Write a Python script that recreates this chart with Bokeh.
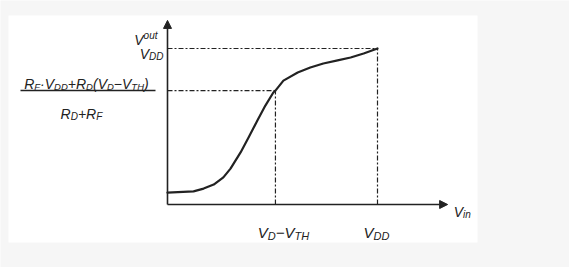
from bokeh.plotting import figure
from bokeh.models import ColumnDataSource, Range1d, Arrow, NormalHead
from bokeh.core.properties import value, field
from bokeh.embed import file_html
from bokeh.resources import INLINE

# ---- data (sketch units: volts) ----
VDD = 5.0
VD_VTH = 2.57
V_MID = 3.65
vin = [0.00, 0.62, 0.86, 1.10, 1.33, 1.50, 1.74, 1.93, 2.14, 2.33, 2.52, 2.57,
       2.76, 3.10, 3.40, 3.71, 4.05, 4.36, 4.67, 5.00]
vout = [0.38, 0.42, 0.51, 0.64, 0.87, 1.15, 1.67, 2.15, 2.69, 3.17, 3.59, 3.65,
        3.97, 4.23, 4.39, 4.52, 4.62, 4.71, 4.84, 5.00]
x_axis_end = 6.67
y_axis_end = 5.9

# label pieces: (text, kind) kind: m = main, s = subscript, u = raised
x_tick_values = [VD_VTH, VDD]
x_tick_labels = [[("V", "m"), ("D", "s"), ("−", "m"), ("V", "m"), ("TH", "s")],
                 [("V", "m"), ("DD", "s")]]
y_tick_labels = [[("V", "m"), ("DD", "s")]]
vout_label = [("V", "m"), ("out", "u")]
vin_label = [("V", "m"), ("in", "s")]
numerator = [("R", "m"), ("F", "s"), ("·", "m"), ("V", "m"), ("DD", "s"), ("+", "m"),
             ("R", "m"), ("D", "s"), ("(", "m"), ("V", "m"), ("D", "s"), ("−", "m"),
             ("V", "m"), ("TH", "s"), (")", "m")]
denominator = [("R", "m"), ("D", "s"), ("+", "m"), ("R", "m"), ("F", "s")]

# ---- layout / style ----
W, H = 569, 267
SX, SY = 42.0, 31.2          # px per unit
X0, Y0 = 167, 204            # pixel position of origin
INK = "#222222"
FONT = "Liberation Sans"

p = figure(width=W, height=H, output_backend="svg", toolbar_location=None,
           x_range=Range1d(-X0 / SX, (W - X0) / SX),
           y_range=Range1d((Y0 - H) / SY, Y0 / SY),
           min_border=0, background_fill_color="#f6f6f6", border_fill_color="#f6f6f6")
p.axis.visible = False
p.grid.visible = False
p.outline_line_color = None

# paper
p.quad(left=[(8 - X0) / SX], right=[(477 - X0) / SX], bottom=[(Y0 - 242) / SY],
       top=[(Y0 - 15) / SY], fill_color="white", line_color=None)

# dashed guides
dash = "5 2 2 2"
p.segment(x0=[0, 0, VD_VTH, VDD], y0=[VDD, V_MID, 0, 0],
          x1=[VDD, VD_VTH, VD_VTH, VDD], y1=[VDD, V_MID, V_MID, VDD],
          line_color=INK, line_width=1.2, line_dash=dash)

# axes with arrows
head = dict(size=8, fill_color=INK, line_color=INK)
p.add_layout(Arrow(end=NormalHead(**head), x_start=0, y_start=0, x_end=0, y_end=y_axis_end,
                   line_color=INK, line_width=1.6))
p.add_layout(Arrow(end=NormalHead(**head), x_start=0, y_start=0, x_end=x_axis_end, y_end=0,
                   line_color=INK, line_width=1.6))

# transfer curve
p.line(vin, vout, line_color=INK, line_width=2.2, line_join="round", line_cap="round")

# fraction bar
frac_cx = -1.93
p.segment(x0=[(20 - X0) / SX], y0=[V_MID], x1=[(155 - X0) / SX], y1=[V_MID],
          line_color=INK, line_width=1.5)

# ---- text composition ----
ADV = {"V": .667, "D": .722, "T": .611, "H": .722, "R": .722, "F": .611, "+": .584,
       "−": .584, "(": .333, ")": .333, "·": .333, "o": .556, "u": .556, "t": .278,
       "i": .222, "n": .556}
rows = dict(x=[], y=[], text=[], xo=[], yo=[], fs=[])


def place(pieces, x, y, align="left", dx=0.0, dy=0.0, main=14, sub=10, sup=-3):
    sizes = [main if k == "m" else sub for _, k in pieces]
    widths = [sum(ADV.get(c, .6) for c in t) * s for (t, _), s in zip(pieces, sizes)]
    total = sum(widths)
    cur = {"left": 0.0, "center": -total / 2, "right": -total}[align] + dx
    for (t, k), s, w in zip(pieces, sizes, widths):
        rows["x"].append(x)
        rows["y"].append(y)
        rows["text"].append(t)
        rows["xo"].append(cur)
        rows["yo"].append(dy + {"m": 0, "s": 3, "u": sup}[k])
        rows["fs"].append(f"{s}px")
        cur += w


for xv, lab, ddx in zip(x_tick_values, x_tick_labels, [8, -1]):
    place(lab, xv, 0, "center", dx=ddx, dy=28, main=15, sub=11)
place(y_tick_labels[0], 0, VDD, "right", dx=-4, dy=5)
place(vout_label, 0, 5.32, "right", dx=-10, dy=1, sup=-4)
place(vin_label, x_axis_end, 0, "left", dx=6, dy=7)
place(numerator, frac_cx, V_MID, "center", dx=0, dy=-7, main=14, sub=9.5)
place(denominator, frac_cx, V_MID, "center", dx=-5, dy=23, main=14, sub=10)

src = ColumnDataSource(rows)
p.text(x="x", y="y", text="text", x_offset="xo", y_offset="yo", source=src,
       text_font=value(FONT), text_font_style="italic", text_font_size=field("fs"),
       text_color=INK, text_align="left", text_baseline="alphabetic")

open("out.html", "w").write(file_html(p, INLINE))
